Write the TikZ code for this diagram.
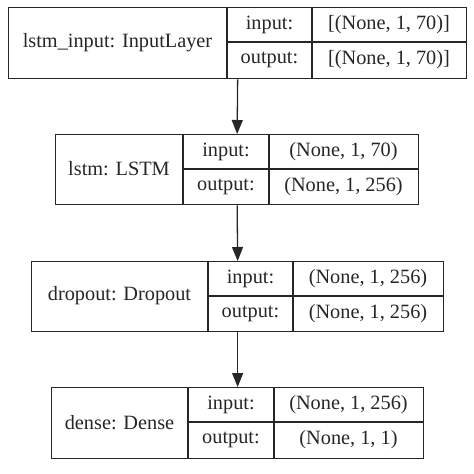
\documentclass[tikz,border=0pt]{standalone}
\usepackage{fontspec}
\setmainfont{Liberation Serif}
\usetikzlibrary{arrows.meta}
\begin{document}
\begin{tikzpicture}[x=1pt,y=-1pt,
  lay/.style={draw=black!85, line width=1.3pt, inner sep=0pt, rectangle},
  txt/.style={font=\fontsize{20.3}{24}\selectfont, inner sep=0pt, text=black!85},
  conn/.style={draw=black!85, line width=1.3pt, -{Triangle[width=11pt,length=14pt]}}]
\useasboundingbox (0,0) rectangle (474,474);
\newcommand{\kerlayer}[8]{%
  \node[lay, minimum width=#3-#2, minimum height=#5-#4, anchor=north west] (#1) at (#2,#4) {};
  \draw[draw=black!85, line width=1.3pt] (#6,#4) -- (#6,#5) (#7,#4) -- (#7,#5) (#6,#8) -- (#3,#8);
}
% box 1
\kerlayer{b1}{8}{466}{7}{78}{227}{312}{42}
\node[txt] (b1l) at (117.5,42.5) {lstm\_input: InputLayer};
\node[txt] (b1i) at (269.5,24.5) {input:};
\node[txt] (b1o) at (269.5,60) {output:};
\node[txt] (b1iv) at (389,24.5) {[(None, 1, 70)]};
\node[txt] (b1ov) at (389,60) {[(None, 1, 70)]};
% box 2
\kerlayer{b2}{55}{418}{134}{204}{183}{269}{169}
\node[txt] (b2l) at (119,169) {lstm: LSTM};
\node[txt] (b2i) at (226,151.5) {input:};
\node[txt] (b2o) at (226,186.5) {output:};
\node[txt] (b2iv) at (343.5,151.5) {(None, 1, 70)};
\node[txt] (b2ov) at (343.5,186.5) {(None, 1, 256)};
% box 3
\kerlayer{b3}{31}{443}{261}{331}{208}{293}{296}
\node[txt] (b3l) at (119.5,296) {dropout: Dropout};
\node[txt] (b3i) at (250.5,278.5) {input:};
\node[txt] (b3o) at (250.5,313.5) {output:};
\node[txt] (b3iv) at (368,278.5) {(None, 1, 256)};
\node[txt] (b3ov) at (368,313.5) {(None, 1, 256)};
% box 4
\kerlayer{b4}{51}{423}{387}{458}{188}{274}{422}
\node[txt] (b4l) at (119.5,422.5) {dense: Dense};
\node[txt] (b4i) at (231,404.5) {input:};
\node[txt] (b4o) at (231,440) {output:};
\node[txt] (b4iv) at (348.5,404.5) {(None, 1, 256)};
\node[txt] (b4ov) at (348.5,440) {(None, 1, 1)};
% connectors
\draw[conn] (b1.south) -- (b2.north);
\draw[conn] (b2.south) -- (b3.north);
\draw[conn] (b3.south) -- (b4.north);
\end{tikzpicture}
\end{document}
